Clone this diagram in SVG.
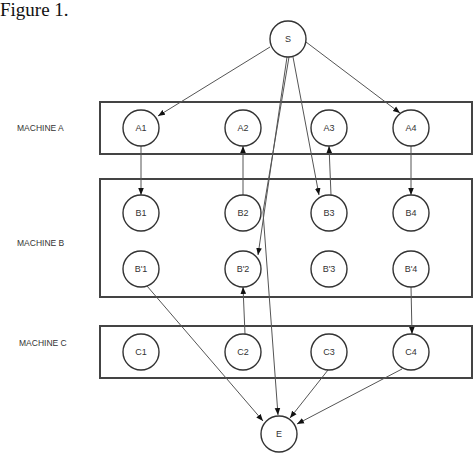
<svg xmlns="http://www.w3.org/2000/svg" width="474" height="455" viewBox="0 0 474 455">
<style>
.box{fill:none;stroke:#444;stroke-width:2}
.nd{fill:#fff;stroke:#333;stroke-width:1.4}
.lb{font-family:"Liberation Sans",Arial,sans-serif;font-size:9px;fill:#333;text-anchor:middle;dominant-baseline:central}
.ml{font-family:"Liberation Sans",Arial,sans-serif;font-size:8.5px;fill:#333}
.ed{fill:none;stroke:#555;stroke-width:1}
</style>
<defs>
<marker id="arr" viewBox="0 0 10 10" refX="10" refY="5" markerWidth="7" markerHeight="7" orient="auto" markerUnits="userSpaceOnUse">
<path d="M0,1 L10,5 L0,9 z" fill="#111"/>
</marker>
</defs>
<rect width="474" height="455" fill="#fff"/>
<text x="0" y="16" font-family="'Liberation Serif','Times New Roman',serif" font-size="19" fill="#111">Figure 1.</text>
<g id="machines">
<rect class="box" x="100" y="102" width="372" height="52"/>
<rect class="box" x="100" y="179" width="372" height="118"/>
<rect class="box" x="100" y="326" width="372" height="52"/>
<text class="ml" x="17" y="131">MACHINE A</text>
<text class="ml" x="17" y="246">MACHINE B</text>
<text class="ml" x="19" y="346">MACHINE C</text>
</g>
<g id="connectors">
<line class="ed" x1="270" y1="47" x2="158" y2="116" marker-end="url(#arr)"/>
<line class="ed" x1="306" y1="42" x2="400" y2="113" marker-end="url(#arr)"/>
<line class="ed" x1="293" y1="57" x2="319" y2="195" marker-end="url(#arr)"/>
<line class="ed" x1="287" y1="57" x2="258" y2="255" marker-end="url(#arr)"/>
<polyline class="ed" points="289,57 263,212 278,415" marker-end="url(#arr)"/>
<line class="ed" x1="141" y1="146" x2="141" y2="195" marker-end="url(#arr)"/>
<line class="ed" x1="243" y1="195" x2="243" y2="146" marker-end="url(#arr)"/>
<line class="ed" x1="331" y1="195" x2="329" y2="146" marker-end="url(#arr)"/>
<line class="ed" x1="411" y1="146" x2="411" y2="195" marker-end="url(#arr)"/>
<line class="ed" x1="245" y1="334" x2="243" y2="287" marker-end="url(#arr)"/>
<line class="ed" x1="411" y1="287" x2="412" y2="334" marker-end="url(#arr)"/>
<line class="ed" x1="147" y1="286" x2="263" y2="421" marker-end="url(#arr)"/>
<line class="ed" x1="328" y1="370" x2="290" y2="418" marker-end="url(#arr)"/>
<line class="ed" x1="402" y1="369" x2="297" y2="424" marker-end="url(#arr)"/>
</g>
<g id="S"><circle class="nd" cx="288" cy="39" r="18"/><text class="lb" x="288" y="39">S</text></g>
<g id="A1"><circle class="nd" cx="141" cy="128" r="18"/><text class="lb" x="141" y="128">A1</text></g>
<g id="A2"><circle class="nd" cx="243" cy="128" r="18"/><text class="lb" x="243" y="128">A2</text></g>
<g id="A3"><circle class="nd" cx="329" cy="128" r="18"/><text class="lb" x="329" y="128">A3</text></g>
<g id="A4"><circle class="nd" cx="411" cy="128" r="18"/><text class="lb" x="411" y="128">A4</text></g>
<g id="B1"><circle class="nd" cx="141" cy="213" r="18"/><text class="lb" x="141" y="213">B1</text></g>
<g id="B2"><circle class="nd" cx="243" cy="213" r="18"/><text class="lb" x="243" y="213">B2</text></g>
<g id="B3"><circle class="nd" cx="329" cy="213" r="18"/><text class="lb" x="329" y="213">B3</text></g>
<g id="B4"><circle class="nd" cx="411" cy="213" r="18"/><text class="lb" x="411" y="213">B4</text></g>
<g id="Bp1"><circle class="nd" cx="141" cy="269" r="18"/><text class="lb" x="141" y="269">B'1</text></g>
<g id="Bp2"><circle class="nd" cx="243" cy="269" r="18"/><text class="lb" x="243" y="269">B'2</text></g>
<g id="Bp3"><circle class="nd" cx="329" cy="269" r="18"/><text class="lb" x="329" y="269">B'3</text></g>
<g id="Bp4"><circle class="nd" cx="411" cy="269" r="18"/><text class="lb" x="411" y="269">B'4</text></g>
<g id="C1"><circle class="nd" cx="141" cy="352" r="18"/><text class="lb" x="141" y="352">C1</text></g>
<g id="C2"><circle class="nd" cx="243" cy="352" r="18"/><text class="lb" x="243" y="352">C2</text></g>
<g id="C3"><circle class="nd" cx="329" cy="352" r="18"/><text class="lb" x="329" y="352">C3</text></g>
<g id="C4"><circle class="nd" cx="411" cy="352" r="18"/><text class="lb" x="411" y="352">C4</text></g>
<g id="E"><circle class="nd" cx="279" cy="434" r="18"/><text class="lb" x="279" y="434">E</text></g>
</svg>
